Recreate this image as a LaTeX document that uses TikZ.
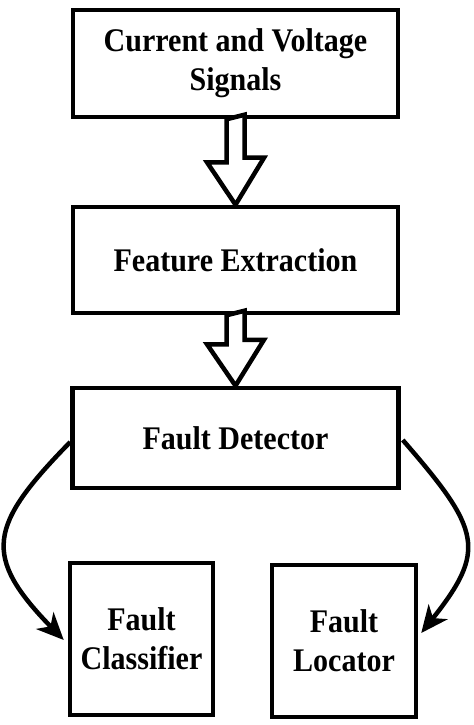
\documentclass[tikz,border=0pt]{standalone}
\usepackage{fontspec}
\setmainfont{Liberation Serif}[FakeStretch=0.91]
\usetikzlibrary{arrows.meta,calc}
\tikzset{
  blockbox/.style={draw=black, line width=4.5bp, rectangle, align=center,
    font=\fontsize{33bp}{39bp}\selectfont\bfseries, inner sep=0pt},
  hollowarrow/.style={draw=black, line width=4.5bp, fill=white, line join=miter},
  curvearrow/.style={draw=black, line width=4.5bp, -{Stealth[length=27bp,width=24bp,inset=8bp]}}
}
\begin{document}
\begin{tikzpicture}[x=1bp,y=-1bp]
\useasboundingbox (0,0) rectangle (474,725);
\node[blockbox, minimum width=325bp, minimum height=107bp] (top) at (235.5,63.5) {Current and Voltage\\Signals};
\node[blockbox, minimum width=325bp, minimum height=106bp] (feat) at (235.5,260) {Feature Extraction};
\node[blockbox, minimum width=326bp, minimum height=100bp] (det) at (235.5,438) {Fault Detector};
\node[blockbox, minimum width=143bp, minimum height=152bp] (cls) at (141.5,639) {Fault\\Classifier};
\node[blockbox, minimum width=144bp, minimum height=152bp] (loc) at (344,641) {Fault\\Locator};
% hollow block arrows
\draw[hollowarrow] (top.south) ++(-9,0) -- ++(0,43) -- ++(-19.5,0) -- (feat.north) -- ++(28.5,-47) -- ++(-19.5,0) -- ++(0,-43) -- cycle;
\draw[hollowarrow] (feat.south) ++(-9,0) -- ++(0,29) -- ++(-19.5,0) -- (det.north) -- ++(28.5,-46) -- ++(-19.5,0) -- ++(0,-29) -- cycle;
% curved arrows
\draw[curvearrow] ($(det.west)+(0,4)$) .. controls (-12,526) and (-18,556) .. ($(cls.west)+(-4,1)$);
\draw[curvearrow] ($(det.east)+(2,2)$) .. controls (481,530) and (487,550) .. ($(loc.east)+(3,-8)$);
\end{tikzpicture}
\end{document}
